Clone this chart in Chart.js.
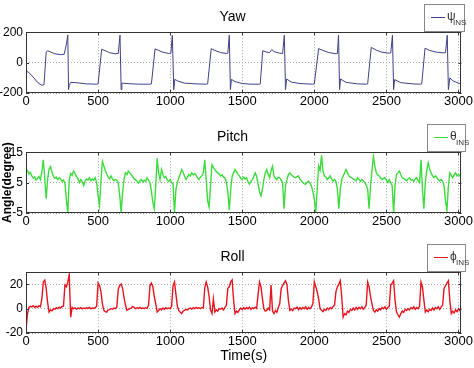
<!DOCTYPE html>
<html>
<head>
<meta charset="utf-8">
<script src="https://cdn.jsdelivr.net/npm/chart.js@4.4.0/dist/chart.umd.min.js"></script>
<style>
  body { margin: 0; background: #fff; }
  #wrap { position: relative; width: 474px; height: 368px; overflow: hidden; }
  canvas { position: absolute; left: 0; }
  .legend { position: absolute; background: #fff; border: 1px solid #888; box-sizing: border-box; height: 28px;
            font-family: 'Liberation Sans', Arial, sans-serif; color: #333; }
  .legend .ln { position: absolute; left: 6px; top: 12px; width: 14px; border-top: 1px solid; }
  .legend .sym { position: absolute; left: 22px; top: 4px; font-size: 12px; }
  .legend .sub { position: absolute; left: 28px; top: 13px; font-size: 8px; }
</style>
</head>
<body>
<div id="wrap">
  <canvas id="yaw" width="474" height="120" style="top:0"></canvas>
  <canvas id="pitch" width="474" height="120" style="top:120px"></canvas>
  <canvas id="roll" width="474" height="128" style="top:240px"></canvas>
  <div class="legend" style="left:424px;top:4px;width:41px"><span class="ln" style="border-color:#404088"></span><span class="sym">ψ</span><span class="sub">INS</span></div>
  <div class="legend" style="left:427px;top:124px;width:39px"><span class="ln" style="border-color:#33dd33"></span><span class="sym">θ</span><span class="sub">INS</span></div>
  <div class="legend" style="left:427px;top:244px;width:39px"><span class="ln" style="border-color:#e8141e"></span><span class="sym">ϕ</span><span class="sub">INS</span></div>
</div>
<script>
// ---- data ----
const timeTicks = [0, 500, 1000, 1500, 2000, 2500, 3000];
const yawTicks = [-200, 0, 200];
const pitchTicks = [-5, 0, 5, 10, 15];
const rollTicks = [-20, 0, 20];

// yaw is smooth, so keep only the turning points
const yawTime = [0, 20, 50, 80, 110, 125, 140, 150, 170, 200, 240, 265, 280, 290, 295, 300, 310, 350, 420, 490,
  500, 525, 550, 580, 620, 640, 652, 660, 665, 700, 780, 860, 870, 895, 920, 950, 990, 1005, 1015, 1025,
  1032, 1050, 1100, 1180, 1250, 1260, 1285, 1310, 1350, 1390, 1400, 1410, 1418, 1425, 1450, 1500, 1560, 1620, 1625, 1642,
  1665, 1690, 1705, 1720, 1760, 1780, 1792, 1800, 1808, 1840, 1900, 1990, 2000, 2030, 2060, 2100, 2150, 2160, 2168, 2175,
  2182, 2220, 2300, 2360, 2370, 2395, 2430, 2470, 2520, 2530, 2542, 2550, 2557, 2600, 2680, 2735, 2745, 2768, 2800, 2850,
  2900, 2910, 2922, 2930, 2940, 2960, 3000, 3020];
const yawAngle = [-55, -65, -95, -130, -150, -145, 70, 78, 70, 58, 52, 55, 120, 182, -178, -150, -130, -132, -140, -142,
  -140, 88, 78, 65, 58, 60, 180, -178, -135, -138, -142, -142, -140, 90, 80, 68, 60, 62, 180, -178,
  -110, -120, -135, -140, -142, -140, 92, 80, 66, 60, 62, 180, -178, -110, -125, -138, -142, -142, -140, 78,
  70, 66, 86, 72, 62, 60, 180, -178, -108, -128, -138, -142, -140, 92, 80, 66, 58, 60, 180, -178,
  -108, -130, -140, -142, -140, 100, 82, 68, 62, 64, 180, -178, -112, -132, -140, -142, -140, 95, 80, 68,
  64, 66, 180, -178, -100, -120, -135, -140];

// pitch and roll are noisy, one reading every 10 s
const sampleStep = 10;
const pitchAngle = [
  8.6, 9.0, 7.8, 8.4, 7.2, 6.5, 6.9, 5.8, 6.4, 7.0,
  6.0, 8.5, 12.5, 6.5, -0.3, 6.0, 9.5, 10.3, 8.5, 7.0,
  6.4, 6.8, 6.0, 6.6, 6.2, 5.4, 5.8, 4.8, -0.5, -5,
  6.0, 8.0, 7.4, 8.8, 8.0, 7.0, 6.4, 5.0, 6.0, 5.2,
  4.0, 5.5, 6.2, 5.8, 6.6, 5.6, 6.2, 5.8, 6.6, 5.0,
  0.8, -2.5, 5.5, 12.0, 10.5, 9.0, 7.8, 6.8, 6.2, 7.2,
  6.2, 5.6, 6.0, 5.8, 4.8, 0.8, -4.7, 1.8, 6.0, 8.2,
  7.6, 8.8, 8.2, 7.6, 7.0, 6.2, 6.0, 5.4, 4.8, 5.6,
  6.0, 5.2, 5.8, 5.4, 6.6, 5.8, 5.0, 2.0, -1.5, -3.6,
  4.0, 13.0, 8.2, 6.0, 9.3, 7.6, 6.6, 7.0, 5.8, 5.4,
  6.0, 5.0, 4.5, -5, 2.8, 5.0, 6.6, 7.8, 9.3, 8.4,
  7.0, 6.0, 6.8, 7.7, 7.2, 8.2, 7.5, 8.0, 7.4, 6.6,
  6.0, 6.8, 7.2, 8.2, 12.5, 6.0, -1.0, -3.0, 3.9, 10.9,
  10.0, 9.3, 8.6, 8.2, 7.8, 7.2, 7.6, 6.8, 6.6, 5.0,
  2.0, -4.1, 2.8, 7.0, 8.2, 9.3, 8.6, 7.8, 7.2, 6.4,
  6.0, 6.8, 6.2, 6.6, 5.2, 4.5, 5.4, 6.0, 7.0, 8.2,
  7.0, 4.5, 2.0, 0.7, 2.8, 6.0, 8.2, 9.3, 7.8, 6.6,
  9.0, 10.4, 7.2, 6.4, 6.0, 6.8, 6.6, 5.8, 5.0, -3.6,
  3.9, 6.0, 7.6, 8.2, 7.6, 7.2, 6.8, 6.6, 7.0, 7.2,
  6.2, 5.6, 5.0, 4.6, 4.5, 5.2, 5.5, 4.8, 3.9, 2.0,
  -0.4, -4.7, 2.8, 10.4, 9.0, 14.0, 8.8, 7.2, 6.8, 6.0,
  6.6, 7.2, 6.2, 5.5, 6.0, 5.4, 2.8, -3.6, 2.8, 6.0,
  7.2, 8.2, 9.3, 8.2, 7.2, 6.8, 6.6, 6.2, 6.0, 5.6,
  6.6, 6.0, 5.4, 6.0, 5.6, 5.0, 4.2, 2.8, -3.6, 3.9,
  9.0, 13.6, 10.4, 8.2, 7.6, 7.2, 6.4, 6.0, 6.4, 6.6,
  5.8, 5.0, 6.0, 5.0, 3.9, -5, 3.9, 7.7, 8.2, 8.8,
  7.6, 6.6, 6.4, 6.0, 5.6, 6.2, 6.6, 5.8, 6.0, 5.4,
  6.2, 6.6, 5.6, 5.0, 12.5, 2.8, -3.6, 5.0, 9.0, 11.5,
  9.5, 8.2, 7.2, 6.6, 7.2, 6.6, 6.0, 5.5, 6.0, 5.4,
  3.9, -1.0, -4.1, 3.9, 8.2, 7.4, 6.6, 7.6, 8.2, 7.2,
  7.6, 7.2, 8.2];
const rollAngle = [
  -18, -4, 1, 2, 1.5, 2.5, 1, 2, 1.2, 2.4,
  1.5, 8, 22, 23.5, 17, 5, -2.8, -1, -1.8, 0,
  -0.5, 0.8, 0, 1.2, 0.5, 1.8, 2, 19.4, 18, 22,
  28, -7, 1, 0, 0.6, -0.4, 0.5, 0, 0.8, -0.2,
  0.6, 0, 0.8, 0.2, 1, 0, 0.6, 0.2, 0.8, 2,
  21, 19, 14, 4, -1.4, -2.5, -2.8, -1, -0.8, 0,
  -0.5, 0.5, 0, 1.4, 16, 19, 20.3, 16.7, 9, 3,
  -1.4, -0.5, 0, 0.5, 1.8, 1, 0, 0.8, 0.2, 1,
  0, 0.6, 0, 0.8, 0.3, 3, 19, 21, 18, 10,
  4, -2.8, -1.5, 0, -1, 0.5, -0.5, 0.8, 0, 0.6,
  0, 2, 19, 22, 12, 2, -1.4, -3, -4, -2,
  -1.4, -0.5, -1, 0, 0.5, -0.4, 0.8, 0, 1, 0.2,
  0.8, 0, 1, 0.5, 17, 22, 18, 10, -1, -4,
  8, -2.8, -1, -2, 0, -0.5, 0.5, -1, 1, 2.8,
  16.7, 18, 22, 23.6, 7, -4, -2, -3, -1, 0.5,
  -0.8, 0.8, -0.5, 1, 0, 1.2, -0.6, 0.8, 0, 1.2,
  0.2, 12, 22, 18, 8.3, 0, -2, -1.4, 0.5, -1,
  19.4, -2, -4, -1.5, -3, 1, 4, 16.7, 19, 21,
  23, 20, 7, -1.4, -0.5, -1.6, 0.5, 0, 1.2, -0.8,
  0.8, -0.5, 1, 0, 1.5, -0.5, 1, 0, 1.5, 4,
  22, 18, 14, 8, 0, -1.4, -2.5, -0.5, -1.5, 0.5,
  -0.8, 1, 0, 1.8, 2.8, 14, 18, 20, 23, 10,
  -7, -4, -5, -2, -3, -0.5, -1.5, 0.5, -1, 1,
  -0.5, 1.2, 0, 1.5, -0.5, 1, 3, 22, 18, 10,
  4, -1.5, -2.8, -1, -2, 0, -1, 1, 0, 1.5,
  -0.5, 1, 2, 19.4, 21, 23, 7, -2.8, -5, -7,
  -4, -2, -3, -0.5, -1.5, 0, -1, 1, 0, 1.5,
  -0.5, 1, 0, 2, 22, 18, 7, -2.8, -1, -2.5,
  -0.5, -1.5, 0.5, -1, 1, 0, 1.5, -0.5, 1.5, 2.8,
  16.7, 19, 21, 23, 7, -4, -2, -3.5, -1, -2.5,
  0, -1.5, 0.5];

const narrow = "'Liberation Sans Narrow', 'Liberation Sans', Arial, sans-serif";
Chart.defaults.font.family = narrow;
Chart.defaults.color = '#000';

// matlab style box with inward ticks
const framePlugin = {
  id: 'frame',
  afterDatasetsDraw(chart) {
    const { ctx, chartArea: a, scales: { x, y } } = chart;
    ctx.save();
    ctx.strokeStyle = '#333';
    ctx.lineWidth = 1;
    ctx.strokeRect(Math.round(a.left) + 0.5, Math.round(a.top) + 0.5, Math.round(a.width) - 1, Math.round(a.height) - 1);
    ctx.beginPath();
    x.ticks.forEach(t => {
      const px = Math.round(x.getPixelForValue(t.value)) + 0.5;
      ctx.moveTo(px, a.bottom); ctx.lineTo(px, a.bottom - 3);
      ctx.moveTo(px, a.top); ctx.lineTo(px, a.top + 3);
    });
    y.ticks.forEach(t => {
      const py = Math.round(y.getPixelForValue(t.value)) + 0.5;
      ctx.moveTo(a.left, py); ctx.lineTo(a.left + 3, py);
      ctx.moveTo(a.right, py); ctx.lineTo(a.right - 3, py);
    });
    ctx.stroke();
    ctx.restore();
  }
};

function drawPanel(id, title, points, color, yMin, yMax, yTicks, opts) {
  const ctx = document.getElementById(id).getContext('2d');
  return new Chart(ctx, {
    type: 'line',
    data: {
      datasets: [{
        data: points,
        borderColor: color,
        borderWidth: opts.lineWidth || 1,
        pointRadius: 0,
        tension: 0,
      }],
    },
    options: {
      responsive: false,
      animation: false,
      events: [],
      layout: { padding: { right: 9 } },
      plugins: {
        legend: { display: false },
        tooltip: { enabled: false },
        title: {
          display: true,
          text: title,
          color: '#000',
          font: { size: 14, weight: 'normal' },
          padding: { top: 9, bottom: 6.4 },
        },
      },
      scales: {
        x: {
          type: 'linear',
          min: 0,
          max: 3020,
          afterBuildTicks: s => { s.ticks = timeTicks.map(v => ({ value: v })); },
          afterFit: s => { s.height = opts.xHeight; },
          ticks: { font: { size: 13 }, padding: 1, maxRotation: 0, callback: v => String(v) },
          grid: { color: '#aaa', drawTicks: false },
          border: { display: false, dash: [1, 2] },
          title: opts.xTitle ? {
            display: true, text: opts.xTitle, color: '#000',
            font: { size: 14 }, padding: { top: 0, bottom: 3 },
          } : { display: false },
        },
        y: {
          min: yMin,
          max: yMax,
          afterBuildTicks: s => { s.ticks = yTicks.map(v => ({ value: v })); },
          afterFit: s => { s.width = 26; },
          ticks: { font: { size: 12 }, padding: 3, callback: v => String(v) },
          grid: { color: '#aaa', drawTicks: false },
          border: { display: false, dash: [1, 2] },
          title: opts.yTitle ? {
            display: true, text: opts.yTitle, color: '#000',
            font: { size: 12, weight: 'bold', family: "'Liberation Sans', Arial, sans-serif" },
            padding: { top: 0, bottom: 0 },
          } : { display: false },
        },
      },
    },
    plugins: [framePlugin],
  });
}

const yawPoints = yawTime.map((t, i) => ({ x: t, y: yawAngle[i] }));
const pitchPoints = pitchAngle.map((v, i) => ({ x: i * sampleStep, y: v }));
const rollPoints = rollAngle.map((v, i) => ({ x: i * sampleStep, y: v }));

drawPanel('yaw', 'Yaw', yawPoints, '#404088', -200, 200, yawTicks, { xHeight: 27 });
drawPanel('pitch', 'Pitch', pitchPoints, '#3ddc3d', -5, 15, pitchTicks, { xHeight: 27, yTitle: 'Angle(degree)', lineWidth: 1.4 });
drawPanel('roll', 'Roll', rollPoints, '#e8141e', -20, 30, rollTicks, { xHeight: 35, xTitle: 'Time(s)', lineWidth: 1.4 });
</script>
</body>
</html>
